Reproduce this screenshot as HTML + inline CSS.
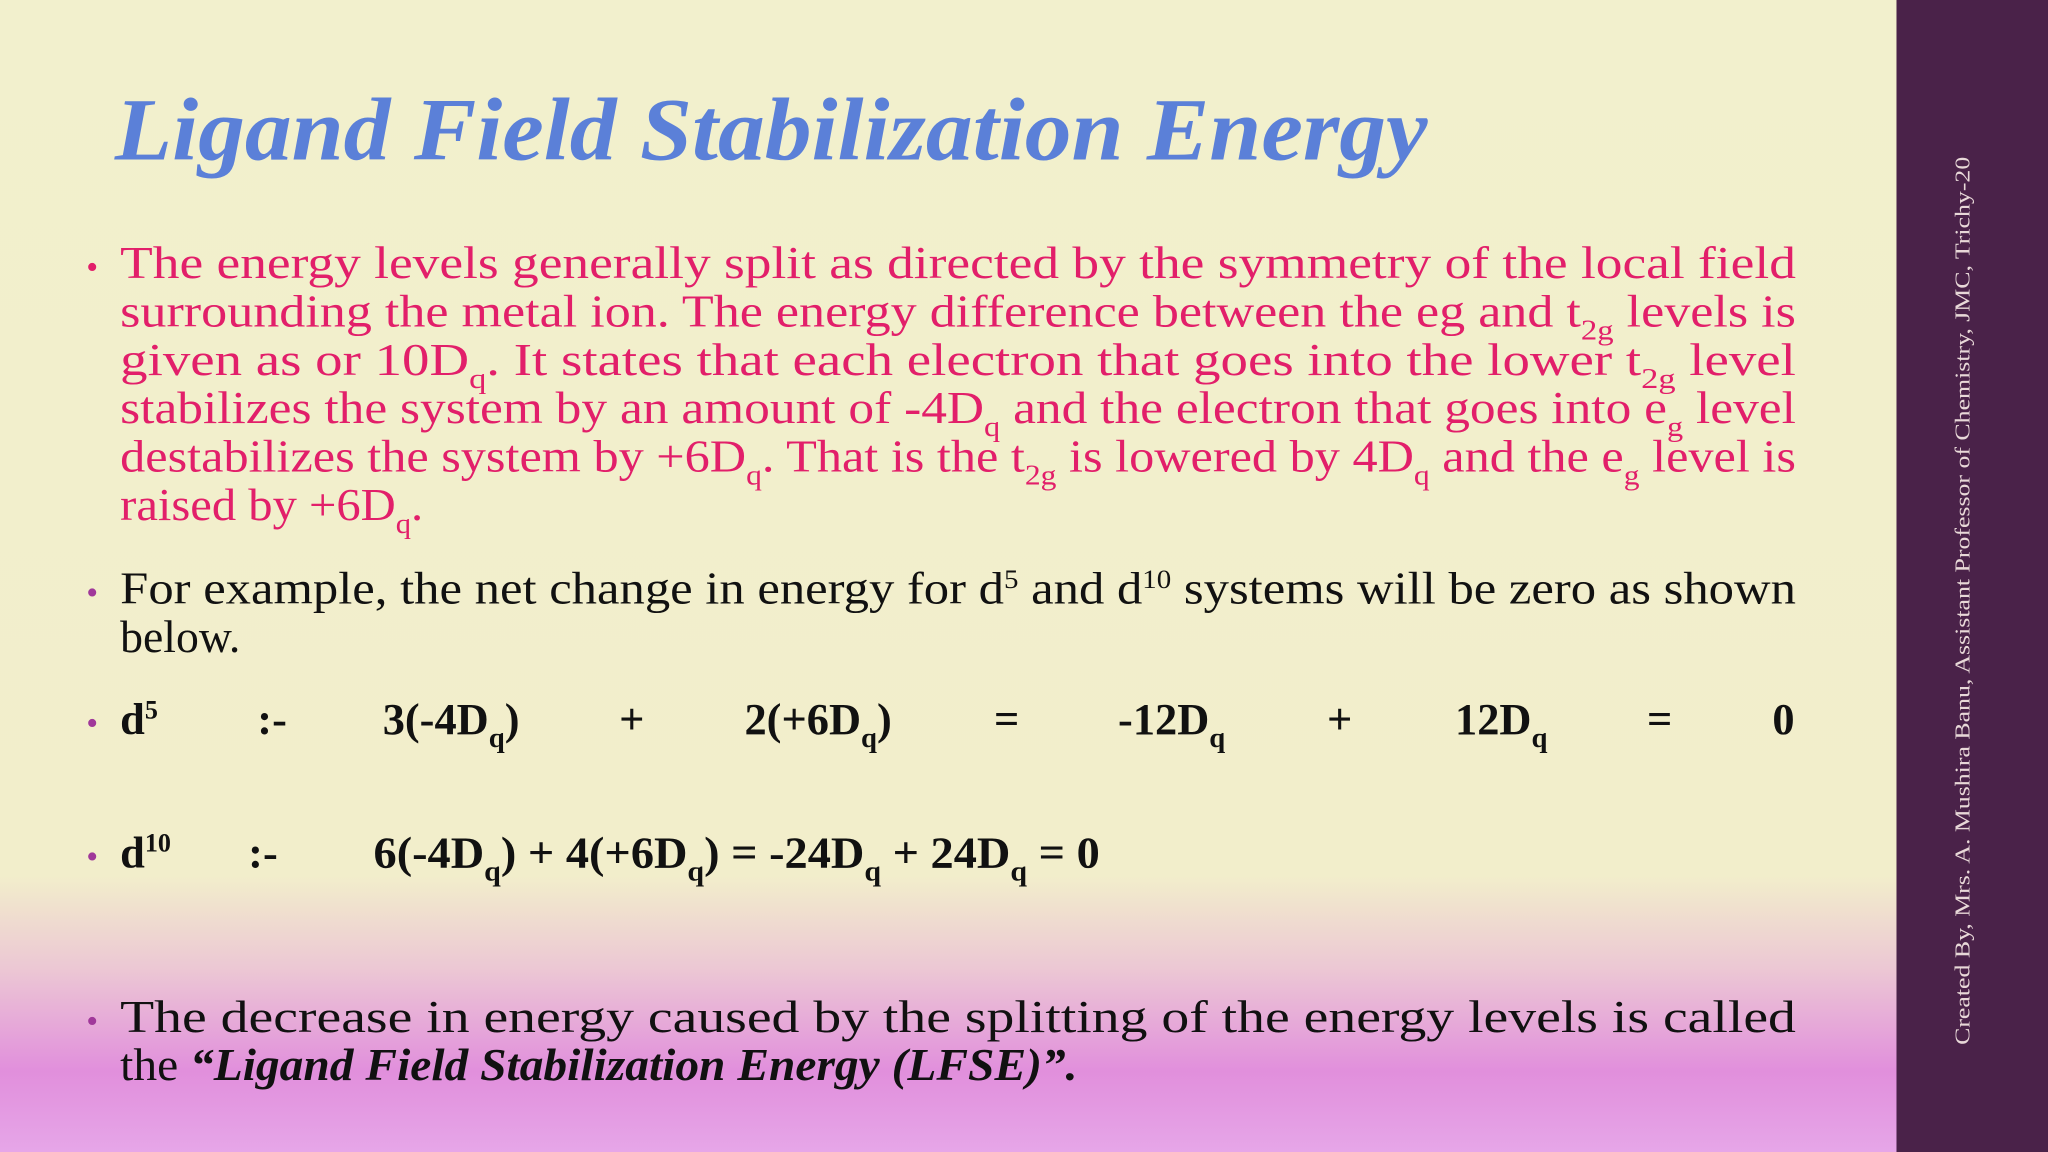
<!DOCTYPE html>
<html><head><meta charset="utf-8"><style>
html,body{margin:0;padding:0;width:2048px;height:1152px;overflow:hidden;background:#f2f0cd}
svg{display:block}
text{font-family:"Liberation Serif",serif}
</style></head><body>
<svg width="2048" height="1152" viewBox="0 0 1568 882" xmlns="http://www.w3.org/2000/svg">
<defs>
<linearGradient id="bg" x1="0" y1="0" x2="0" y2="1">
<stop offset="0" stop-color="#f2f0cd"/>
<stop offset="0.76" stop-color="#f2eecb"/>
<stop offset="0.84" stop-color="#ecc8d4"/>
<stop offset="0.93" stop-color="#e18fdc"/>
<stop offset="1" stop-color="#e6a6e8"/>
</linearGradient>
</defs>
<rect x="0" y="0" width="1452" height="882" fill="url(#bg)"/>
<rect x="1452" y="0" width="116" height="882" fill="#4a2249"/>
<text transform="translate(1508,800) rotate(-90)" font-size="16" fill="#e8d8d8" textLength="680" lengthAdjust="spacingAndGlyphs">Created By, Mrs. A. Mushira Banu, Assistant Professor of Chemistry, JMC, Trichy-20</text>

<text x="88" y="122" font-size="68" font-weight="bold" font-style="italic" fill="#5b80d8" textLength="1005" lengthAdjust="spacingAndGlyphs">Ligand Field Stabilization Energy</text>

<g font-size="35" fill="#e21f6a">
<text x="66" y="213" font-size="26">•</text>
<text x="92" y="213" textLength="1283" lengthAdjust="spacingAndGlyphs">The energy levels generally split as directed by the symmetry of the local field</text>
<text x="92" y="250" textLength="1283" lengthAdjust="spacingAndGlyphs">surrounding the metal ion. The energy difference between the eg and t<tspan dy="10" font-size="22">2g</tspan><tspan dy="-10"> levels is</tspan></text>
<text x="92" y="287" textLength="1283" lengthAdjust="spacingAndGlyphs">given as or 10D<tspan dy="10" font-size="22">q</tspan><tspan dy="-10">. It states that each electron that goes into the lower t</tspan><tspan dy="10" font-size="22">2g</tspan><tspan dy="-10"> level</tspan></text>
<text x="92" y="324" textLength="1283" lengthAdjust="spacingAndGlyphs">stabilizes the system by an amount of -4D<tspan dy="10" font-size="22">q</tspan><tspan dy="-10"> and the electron that goes into e</tspan><tspan dy="10" font-size="22">g</tspan><tspan dy="-10"> level</tspan></text>
<text x="92" y="361" textLength="1283" lengthAdjust="spacingAndGlyphs">destabilizes the system by +6D<tspan dy="10" font-size="22">q</tspan><tspan dy="-10">. That is the t</tspan><tspan dy="10" font-size="22">2g</tspan><tspan dy="-10"> is lowered by 4D</tspan><tspan dy="10" font-size="22">q</tspan><tspan dy="-10"> and the e</tspan><tspan dy="10" font-size="22">g</tspan><tspan dy="-10"> level is</tspan></text>
<text x="92" y="398" textLength="232" lengthAdjust="spacingAndGlyphs">raised by +6D<tspan dy="10" font-size="22">q</tspan><tspan dy="-10">.</tspan></text>
</g>

<g font-size="35" fill="#111">
<text x="66" y="462" font-size="26" fill="#a0389a">•</text>
<text x="92" y="462" textLength="1283" lengthAdjust="spacingAndGlyphs">For example, the net change in energy for d<tspan dy="-12" font-size="20">5</tspan><tspan dy="12"> and d</tspan><tspan dy="-12" font-size="20">10</tspan><tspan dy="12"> systems will be zero as shown</tspan></text>
<text x="92" y="499" textLength="92" lengthAdjust="spacingAndGlyphs">below.</text>
</g>

<g font-size="34" fill="#111" font-weight="bold">
<text x="66" y="562" font-size="26" fill="#a0389a" font-weight="normal">•</text>
<text x="92" y="562">d<tspan dy="-12" font-size="20">5</tspan></text>
<text x="197" y="562">:-</text>
<text x="293" y="562">3(-4D<tspan dy="10" font-size="22">q</tspan><tspan dy="-10">)</tspan></text>
<text x="474" y="562">+</text>
<text x="570" y="562">2(+6D<tspan dy="10" font-size="22">q</tspan><tspan dy="-10">)</tspan></text>
<text x="761" y="562">=</text>
<text x="856" y="562">-12D<tspan dy="10" font-size="22">q</tspan></text>
<text x="1016" y="562">+</text>
<text x="1114" y="562">12D<tspan dy="10" font-size="22">q</tspan></text>
<text x="1261" y="562">=</text>
<text x="1357" y="562">0</text>
</g>

<g font-size="34" fill="#111" font-weight="bold">
<text x="66" y="664" font-size="26" fill="#a0389a" font-weight="normal">•</text>
<text x="92" y="664">d<tspan dy="-12" font-size="20">10</tspan></text>
<text x="190" y="664">:-</text>
<text x="286" y="664" textLength="556" lengthAdjust="spacingAndGlyphs">6(-4D<tspan dy="10" font-size="22">q</tspan><tspan dy="-10">) + 4(+6D</tspan><tspan dy="10" font-size="22">q</tspan><tspan dy="-10">) = -24D</tspan><tspan dy="10" font-size="22">q</tspan><tspan dy="-10"> + 24D</tspan><tspan dy="10" font-size="22">q</tspan><tspan dy="-10"> = 0</tspan></text>
</g>

<g font-size="35" fill="#111">
<text x="66" y="790" font-size="26" fill="#a0389a">•</text>
<text x="92" y="790" textLength="1283" lengthAdjust="spacingAndGlyphs">The decrease in energy caused by the splitting of the energy levels is called</text>
<text x="92" y="827" textLength="733" lengthAdjust="spacingAndGlyphs">the <tspan font-weight="bold" font-style="italic">“Ligand Field Stabilization Energy (LFSE)”.</tspan></text>
</g>
</svg>
</body></html>
